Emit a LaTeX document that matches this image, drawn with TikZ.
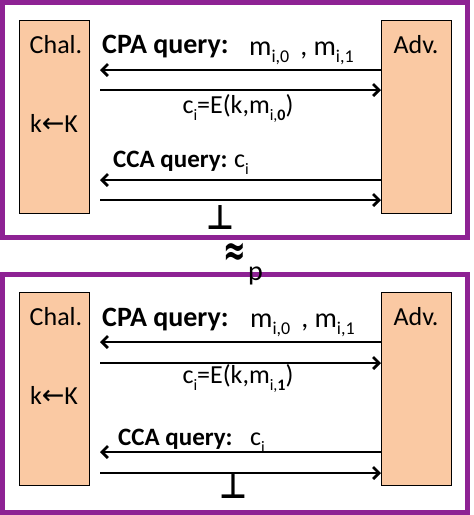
\documentclass[tikz,border=0pt]{standalone}
\usepackage{fontspec}
\setmainfont{Carlito}
\newfontfamily\symfont{DejaVu Sans}
\usetikzlibrary{arrows.meta}
\definecolor{framecol}{RGB}{142,34,148}
\definecolor{peach}{RGB}{250,201,163}
\newcommand{\sbs}[1]{\raisebox{-0.3em}{\fontsize{16}{16}\selectfont #1}}
\newcommand{\sbm}[1]{\raisebox{-0.28em}{\fontsize{18}{18}\selectfont #1}}
\begin{document}
\begin{tikzpicture}[x=1pt,y=-1pt,
  frm/.style={draw=framecol,line width=5pt},
  party/.style={draw=black,line width=0.8pt,fill=peach,inner sep=0pt,
    minimum width=70pt,minimum height=193pt,anchor=north west},
  lbl/.style={font=\fontsize{26}{30}\selectfont,inner sep=0pt},
  msg/.style={font=\fontsize{28}{32}\selectfont,inner sep=0pt},
  bld/.style={font=\fontsize{28}{32}\selectfont\bfseries,inner sep=0pt},
  bldc/.style={font=\fontsize{25}{30}\selectfont\bfseries,inner sep=0pt},
  bot/.style={font=\fontsize{34}{36}\selectfont\symfont\bfseries,inner sep=0pt,xscale=0.9},
  arr/.style={line width=2.8pt,-{Straight Barb[length=6pt,width=12pt]}},
]
\useasboundingbox (0,0) rectangle (474,515);
% frames
\draw[frm] (2.5,2.5) rectangle (467,237.5);
\draw[frm] (2.5,274.5) rectangle (467,512.5);

% ---------- top game ----------
\node[party] (chalA) at (19,20) {};
\node[party] (advA) at (381,20) {};
\node[lbl,anchor=base] (chalAt) at (56,53) {Chal.};
\node[lbl,anchor=base] (advAt) at (416,53) {Adv.};
\node[lbl,anchor=base] (keyA) at (54,132) {k{\symfont\fontsize{27}{28}\selectfont ←}K};
\node[bld,anchor=base west] (cpaA) at (102,53) {CPA query:};
\node[msg,anchor=base west] (msgA) at (249,55) {m\sbm{i,0}\ \,,\ m\sbm{i,1}};
\node[lbl,anchor=base] (encA) at (238,113) {c\sbs{i}=E(k,m\sbs{i,\textbf{0}})};
\node[bldc,anchor=base west] (ccaA) at (113,167) {CCA query:};
\node[lbl,anchor=base west] (ctA) at (234,167) {c\sbs{i}};
\node[bot,anchor=base] (botA) at (220,229) {⊥};
\coordinate (a1) at (100,70);
\coordinate (a2) at (100,90);
\coordinate (a3) at (100,180);
\coordinate (a4) at (100,200);
\draw[arr] (advA.west |- a1) -- (a1);
\draw[arr] (a2) -- (advA.west |- a2);
\draw[arr] (advA.west |- a3) -- (a3);
\draw[arr] (a4) -- (advA.west |- a4);

% ---------- bottom game ----------
\node[party] (chalB) at (19,292) {};
\node[party] (advB) at (381,292) {};
\node[lbl,anchor=base] (chalBt) at (56,325) {Chal.};
\node[lbl,anchor=base] (advBt) at (416,325) {Adv.};
\node[lbl,anchor=base] (keyB) at (54,404) {k{\symfont\fontsize{27}{28}\selectfont ←}K};
\node[bld,anchor=base west] (cpaB) at (102,326) {CPA query:};
\node[msg,anchor=base west] (msgB) at (250,327) {m\sbm{i,0}\ \,,\ m\sbm{i,1}};
\node[lbl,anchor=base] (encB) at (238,383) {c\sbs{i}=E(k,m\sbs{i,\textbf{1}})};
\node[bldc,anchor=base west] (ccaB) at (118,445) {CCA query:};
\node[lbl,anchor=base west] (ctB) at (250,445) {c\sbs{i}};
\node[bot,anchor=base] (botB) at (233,498) {⊥};
\coordinate (b1) at (100,342);
\coordinate (b2) at (100,363);
\coordinate (b3) at (100,452);
\coordinate (b4) at (100,473);
\draw[arr] (advB.west |- b1) -- (b1);
\draw[arr] (b2) -- (advB.west |- b2);
\draw[arr] (advB.west |- b3) -- (b3);
\draw[arr] (b4) -- (advB.west |- b4);

% indistinguishability sign
\node[font=\fontsize{27}{28}\selectfont\symfont\bfseries,inner sep=0pt,yscale=1.6] (approx) at (235,254) {≈};
\node[msg,anchor=base west] (pp) at (248,280) {p};
\end{tikzpicture}
\end{document}
